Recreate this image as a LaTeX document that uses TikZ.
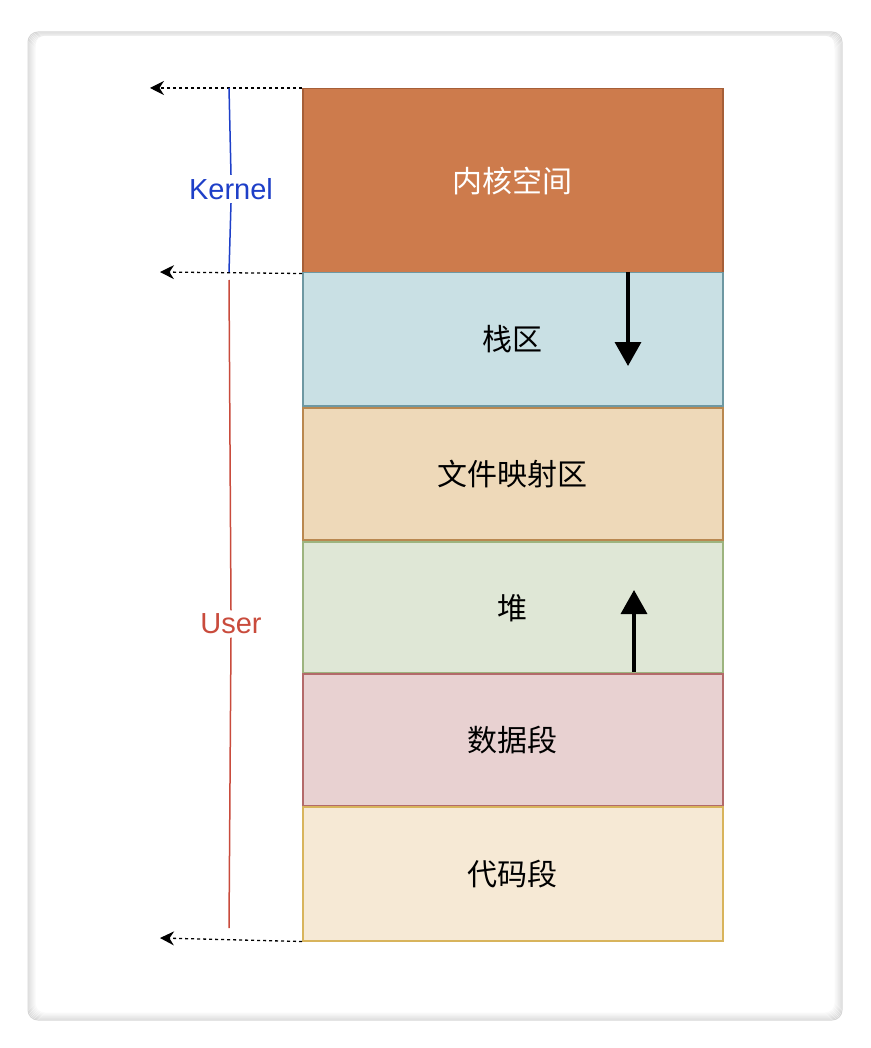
\documentclass[tikz,border=0pt]{standalone}
\usepackage{fontspec}
\setmainfont{Liberation Sans}
\newfontfamily\cjk{Noto Sans CJK SC}
\usetikzlibrary{arrows.meta}
\definecolor{kf}{HTML}{CD7B4C}\definecolor{kd}{HTML}{A65F38}
\definecolor{sf}{HTML}{C9E0E4}\definecolor{sd}{HTML}{6E98A2}
\definecolor{ff}{HTML}{EED9B9}\definecolor{fd}{HTML}{B98850}
\definecolor{hf}{HTML}{DFE7D6}\definecolor{hd}{HTML}{9DB47F}
\definecolor{df}{HTML}{E8D1D1}\definecolor{dd}{HTML}{B36A6A}
\definecolor{cf}{HTML}{F6E9D5}\definecolor{cd}{HTML}{D8B45C}
\definecolor{kb}{HTML}{1E3FC8}\definecolor{ur}{HTML}{C94B3C}
\tikzset{seg/.style={draw,line width=1.5pt,minimum width=420pt,anchor=north west,inner sep=0pt,font=\cjk\fontsize{30}{30}\selectfont},
dash arrow/.style={dashed,line width=1.3pt,-{Stealth[length=14pt,width=14pt]}},
big arrow/.style={line width=3.5pt,-{Triangle[length=24pt,width=26pt]}}}
\begin{document}
\begin{tikzpicture}[x=1pt,y=-1pt]
\useasboundingbox (0,0) rectangle (870,1048);
\fill[white] (0,0) rectangle (870,1048);
\foreach \i in {1,...,8}{\draw[black!\the\numexpr 2*\i\relax,line width=1pt,rounded corners=10pt] (36-\i,36-\i+4) rectangle (834+\i,1012+\i);}
\fill[white,rounded corners=8pt] (36,36) rectangle (834,1012);
\node[seg,fill=kf,draw=kd,minimum height=184pt,text=white] (k) at (302,88) {内核空间};
\node[seg,fill=sf,draw=sd,minimum height=133pt] (s) at (302,272) {栈区};
\node[seg,fill=ff,draw=fd,minimum height=132pt] (f) at (302,407) {文件映射区};
\node[seg,fill=hf,draw=hd,minimum height=131pt,yshift=0pt] (h) at (302,541) {};
\node[font=\cjk\fontsize{30}{30}\selectfont] (ht) at (512,608) {堆};
\node[seg,fill=df,draw=dd,minimum height=132pt] (d) at (302,673) {数据段};
\node[seg,fill=cf,draw=cd,minimum height=134pt] (c) at (302,806) {代码段};
\coordinate (a1) at (628,272); \coordinate (a2) at (628,366);
\draw[big arrow] (a1) -- (a2);
\coordinate (b1) at (634,672); \coordinate (b2) at (634,590);
\draw[big arrow] (b1) -- (b2);
\coordinate (t1) at (150,88); \coordinate (t2) at (160,272); \coordinate (t3) at (160,938);
\draw[dash arrow] (k.north west) -- (t1);
\draw[dash arrow] (k.south west) -- (t2);
\draw[dash arrow] (c.south west) -- (t3);
\node[text=kb,font=\fontsize{29}{29}\selectfont] (kl) at (231,189) {Kernel};
\node[text=ur,font=\fontsize{29}{29}\selectfont] (ul) at (231,624) {User};
\draw[kb,line width=1.5pt] (229,88) -- (kl.north);
\draw[kb,line width=1.5pt] (kl.south) -- (229,272);
\draw[ur,line width=1.5pt] (229,280) -- (ul.north);
\draw[ur,line width=1.5pt] (ul.south) -- (229,928);
\end{tikzpicture}
\end{document}
